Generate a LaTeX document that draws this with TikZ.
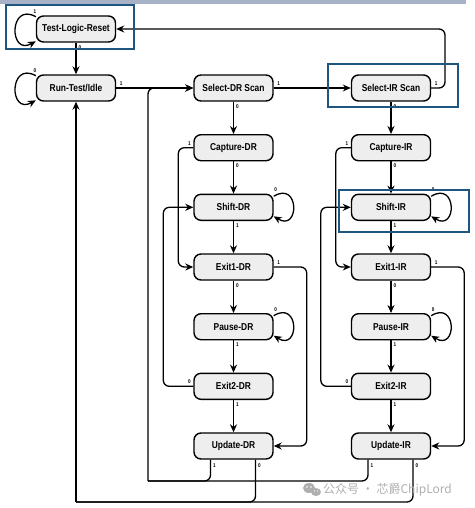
\documentclass[tikz,border=0pt]{standalone}
\usepackage{fontspec}
\setmainfont{Liberation Sans}[FakeStretch=0.84]
\newfontfamily\cjkfont{Noto Sans CJK SC}
\usetikzlibrary{arrows.meta,calc}
\definecolor{hlblue}{RGB}{31,86,128}
\definecolor{bandcol}{RGB}{168,178,198}
\definecolor{boxfill}{RGB}{238,238,238}
\definecolor{wmgray}{RGB}{175,175,175}
\tikzset{
  st/.style={draw, line width=1.4pt, rounded corners=7pt, fill=boxfill,
    minimum width=79pt, minimum height=26pt, inner sep=0pt,
    font=\bfseries\fontsize{10}{12}\selectfont},
  ar/.style={draw, line width=1.3pt, rounded corners=6pt, -{Stealth[length=8pt,width=7pt]}},
  ln/.style={draw, line width=1.3pt, rounded corners=6pt},
  lab/.style={font=\bfseries\fontsize{5.5}{6}\selectfont, inner sep=0.5pt},
  hl/.style={draw=hlblue, line width=2pt},
}
\begin{document}
\begin{tikzpicture}[x=1pt,y=-1pt]
\useasboundingbox (0,0) rectangle (474,508);
\fill[bandcol] (0,0) rectangle (466,4);
% nodes
\node[st] (tlr) at (76,29) {Test-Logic-Reset};
\node[st] (rti) at (76,88) {Run-Test/Idle};
\node[st] (sdr) at (233.5,88) {Select-DR Scan};
\node[st] (sir) at (391,88) {Select-IR Scan};
\node[st] (cdr) at (233.5,147.7) {Capture-DR};
\node[st] (shdr) at (233.5,207.3) {Shift-DR};
\node[st] (e1dr) at (233.5,267) {Exit1-DR};
\node[st] (pdr) at (233.5,326.7) {Pause-DR};
\node[st] (e2dr) at (233.5,386.3) {Exit2-DR};
\node[st] (udr) at (233.5,446) {Update-DR};
\node[st] (cir) at (391,147.7) {Capture-IR};
\node[st] (shir) at (391,207.3) {Shift-IR};
\node[st] (e1ir) at (391,267) {Exit1-IR};
\node[st] (pir) at (391,326.7) {Pause-IR};
\node[st] (e2ir) at (391,386.3) {Exit2-IR};
\node[st] (uir) at (391,446) {Update-IR};
% free corner points
\coordinate (topR) at (445,29);
\coordinate (loopA) at (148,481);
\coordinate (loopB) at (76,502);
% self loops
\draw[ar] (tlr.163) .. controls +(-27,-15) and +(-27,15) .. (tlr.197);
\node[lab, anchor=south] at ([xshift=-1pt,yshift=1pt]tlr.north west) {1};
\draw[ar] (rti.163) .. controls +(-27,-15) and +(-27,15) .. (rti.197);
\node[lab, anchor=south] at ([xshift=-1pt,yshift=1pt]rti.north west) {0};
\foreach \n/\v in {shdr/0,pdr/0,shir/0,pir/0}{
  \draw[ar] ([yshift=11pt]\n.east) .. controls +(26,-16) and +(26,16) .. ([yshift=-9pt]\n.east);
  \node[lab, anchor=south] at ([xshift=2pt,yshift=1pt]\n.north east) {\v};
}
% top row
\draw[ar] (tlr) -- (rti);
\node[lab, anchor=north west] at ([xshift=2pt,yshift=-2pt]tlr.south) {0};
\draw[ar] (rti) -- (sdr);
\node[lab, anchor=south west] at ([xshift=3pt,yshift=2pt]rti.east) {1};
\draw[ar] (sdr) -- (sir);
\node[lab, anchor=south west] at ([xshift=3pt,yshift=2pt]sdr.east) {1};
\draw[ar] (sir.east) -| (topR) -- (tlr.east);
\node[lab, anchor=south west] at ([xshift=3pt,yshift=2pt]sir.east) {1};
% columns
\foreach \c in {dr,ir}{
  \draw[ar] (s\c) -- (c\c);
  \node[lab, anchor=north west] at ([xshift=2pt,yshift=-2pt]s\c.south) {0};
  \draw[ar] (c\c) -- (sh\c);
  \node[lab, anchor=north west] at ([xshift=2pt,yshift=-2pt]c\c.south) {0};
  \draw[ar] (sh\c) -- (e1\c);
  \node[lab, anchor=north west] at ([xshift=2pt,yshift=-2pt]sh\c.south) {1};
  \draw[ar] (e1\c) -- (p\c);
  \node[lab, anchor=north west] at ([xshift=2pt,yshift=-2pt]e1\c.south) {0};
  \draw[ar] (p\c) -- (e2\c);
  \node[lab, anchor=north west] at ([xshift=2pt,yshift=-2pt]p\c.south) {1};
  \draw[ar] (e2\c) -- (u\c);
  \node[lab, anchor=north west] at ([xshift=2pt,yshift=-2pt]e2\c.south) {1};
  % Capture 1 -> Exit1
  \draw[ar] (c\c.west) -- ++(-15,0) |- (e1\c.west);
  \node[lab, anchor=south east] at ([xshift=-2pt,yshift=2pt]c\c.west) {1};
  % Exit2 0 -> Shift
  \draw[ar] (e2\c.west) -- ++(-30,0) |- (sh\c.west);
  \node[lab, anchor=south east] at ([xshift=-2pt,yshift=2pt]e2\c.west) {0};
  % Exit1 1 -> Update
  \draw[ar] (e1\c.east) -- ++(33,0) |- (u\c.east);
  \node[lab, anchor=south west] at ([xshift=3pt,yshift=2pt]e1\c.east) {1};
  % Update outputs
  \draw[ln] ([xshift=-23pt]u\c.south) |- (loopA);
  \node[lab, anchor=north west] at ([xshift=-21pt,yshift=-3pt]u\c.south) {1};
  \draw[ln] ([xshift=22pt]u\c.south) |- (loopB);
  \node[lab, anchor=north west] at ([xshift=24pt,yshift=-3pt]u\c.south) {0};
}
\draw[ar] (loopA) |- (sdr.west);
\draw[ar] (loopB) -- (rti.south);
% highlight frames
\draw[hl] ($(tlr.north west)+(-30,-10)$) rectangle ($(tlr.south east)+(18,6)$);
\draw[hl] ($(sir.north west)+(-22.5,-10)$) rectangle ($(sir.south east)+(26.5,5)$);
\draw[hl] ($(shir.north west)+(-11.5,-4)$) rectangle ($(shir.south east)+(37.5,10.5)$);
% watermark
\fill[wmgray] (309,488) ellipse (6pt and 5pt);
\fill[wmgray] (316,492) ellipse (5pt and 4pt);
\fill[white] (307,487) circle (0.9pt) (311,487) circle (0.9pt) (314.5,491) circle (0.7pt) (317.5,491) circle (0.7pt);
\node[anchor=west, inner sep=0pt, text=wmgray, font=\cjkfont\fontsize{12}{14}\selectfont] (wm) at (323,490) {公众号 · 芯爵ChipLord};
\end{tikzpicture}
\end{document}
